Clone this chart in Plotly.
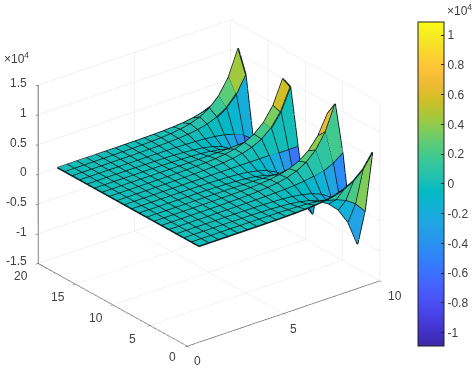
import plotly.graph_objects as go

x_vals = [1, 1.5, 2, 2.5, 3, 3.5, 4, 4.5, 5, 5.5, 6, 6.5, 7, 7.5, 8, 8.5, 9, 9.5, 10]
y_vals = list(range(1, 21))
z_rows = [
    [.8, 1.3, 2.0, 3.3, 5.4, 9.0, 14.8, 24.3, 40.1, 66.1, 109, 180, 296, 488, 805, 1328, 2189, 3609, 5950],
    [-.6, -1.0, -1.6, -2.6, -4.2, -6.9, -11.4, -18.7, -30.9, -50.9, -83.9, -138, -228, -376, -620, -1023, -1686, -2780, -4583],
    [-1.5, -2.3, -3.7, -6.1, -10.0, -16.4, -27.0, -44.6, -73.5, -121, -200, -329, -543, -895, -1476, -2433, -4011, -6613, -10903],
    [-1.0, -1.5, -2.5, -4.0, -6.6, -10.8, -17.9, -29.4, -48.5, -80, -132, -217, -358, -591, -974, -1606, -2648, -4366, -7199],
    [.4, .7, 1.1, 1.7, 2.9, 4.7, 7.7, 12.8, 21.1, 34.7, 57.2, 94.3, 155.5, 256, 423, 697, 1149, 1895, 3124],
    [1.5, 2.3, 3.6, 5.9, 9.7, 15.9, 26.2, 43.2, 71.3, 117.5, 193.7, 319, 526, 868, 1431, 2360, 3890, 6414, 10575],
    [1.2, 1.8, 2.8, 4.6, 7.6, 12.5, 20.6, 33.9, 55.9, 92.2, 152, 251, 413, 682, 1124, 1853, 3054, 5036, 8303],
    [-.2, -.3, -.5, -.9, -1.5, -2.4, -4.0, -6.5, -10.8, -17.8, -29.4, -48.4, -79.8, -131.5, -217, -358, -590, -972, -1602],
    [-1.4, -2.1, -3.4, -5.6, -9.2, -15.1, -24.9, -41, -67.6, -111.5, -183.8, -303, -500, -824, -1358, -2239, -3691, -6086, -10034],
    [-1.3, -2.0, -3.2, -5.1, -8.4, -13.9, -22.9, -37.8, -62.3, -102.7, -169.3, -279, -460, -759, -1251, -2062, -3400, -5605, -9241],
    [0, 0, 0, 0, 0, .1, .1, .2, .3, .5, .9, 1.5, 2.4, 4.0, 6.6, 10.9, 17.9, 29.6, 48.7],
    [1.3, 2.0, 3.2, 5.2, 8.5, 14.0, 23.0, 38.0, 62.6, 103, 170, 281, 463, 763, 1258, 2074, 3419, 5637, 9293],
    [1.4, 2.1, 3.4, 5.6, 9.1, 15.0, 24.8, 40.8, 67.3, 111, 183, 302, 498, 820, 1353, 2230, 3677, 6062, 9994],
    [.2, .3, .5, .8, 1.4, 2.3, 3.7, 6.2, 10.1, 16.7, 27.6, 45.5, 75, 123.6, 204, 336, 554, 913, 1506],
    [-1.2, -1.8, -2.9, -4.7, -7.6, -12.6, -20.7, -34.2, -56.4, -92.9, -153, -253, -417, -687, -1132, -1867, -3078, -5075, -8367],
    [-1.5, -2.3, -3.6, -5.9, -9.6, -15.9, -26.2, -43.1, -71.1, -117, -193, -318, -525, -866, -1427, -2353, -3880, -6397, -10547],
    [-.4, -.6, -1.0, -1.7, -2.8, -4.6, -7.5, -12.4, -20.4, -33.7, -55.5, -91.5, -151, -249, -410, -676, -1115, -1838, -3030],
    [1.0, 1.6, 2.5, 4.0, 6.6, 10.9, 18, 29.7, 49, 80.8, 133, 220, 362, 597, 984, 1623, 2675, 4411, 7272],
    [1.5, 2.3, 3.7, 6.1, 10, 16.4, 27, 44.5, 73.4, 121, 199, 329, 542, 894, 1474, 2430, 4006, 6604, 10889],
    [.6, 1.0, 1.5, 2.5, 4.1, 6.8, 11.1, 18.4, 30.3, 49.9, 82.3, 136, 224, 369, 608, 1003, 1653, 2726, 4494],
]
x_ticks = [0, 5, 10]
y_ticks = [0, 5, 10, 15, 20]
z_ticks = [-15000, -10000, -5000, 0, 5000, 10000, 15000]
z_labels = ["-1.5", "-1", "-0.5", "0", "0.5", "1", "1.5"]
cb_ticks = [-10000, -8000, -6000, -4000, -2000, 0, 2000, 4000, 6000, 8000, 10000]
cb_labels = ["-1", "-0.8", "-0.6", "-0.4", "-0.2", "0", "0.2", "0.4", "0.6", "0.8", "1"]
parula = [
    [.2422, .1504, .6603], [.2647, .1978, .7952], [.2783, .2559, .8991], [.2810, .3228, .9579],
    [.2699, .3892, .9906], [.2206, .4603, .9973], [.1786, .5289, .9682], [.1540, .5902, .9218],
    [.1248, .6459, .8883], [.0689, .6948, .8394], [.0067, .7312, .7660], [.1408, .7584, .6842],
    [.2161, .7843, .5923], [.3406, .8008, .4789], [.5044, .7993, .3480], [.6720, .7793, .2227],
    [.8203, .7498, .1535], [.9393, .7288, .2100], [.9970, .7659, .2199], [.9786, .8386, .1766],
    [.9597, .9135, .1423], [.9769, .9839, .0805],
]
colorscale = [[i / (len(parula) - 1), "rgb(%d,%d,%d)" % tuple(round(c * 255) for c in p)]
              for i, p in enumerate(parula)]

ny, nx = len(y_vals), len(x_vals)
vx, vy, vz = [], [], []
for r in range(ny):
    for c in range(nx):
        vx.append(x_vals[c]); vy.append(y_vals[r]); vz.append(z_rows[r][c])
fi, fj, fk, fc = [], [], [], []
for r in range(ny - 1):
    for c in range(nx - 1):
        a = r * nx + c
        b, d, e = a + 1, a + nx, a + nx + 1
        fi += [a, a]; fj += [b, e]; fk += [e, d]
        fc += [z_rows[r][c], z_rows[r][c]]

lx, ly, lz = [], [], []
for r in range(ny):
    lx += x_vals + [None]; ly += [y_vals[r]] * nx + [None]; lz += z_rows[r] + [None]
for c in range(nx):
    lx += [x_vals[c]] * ny + [None]; ly += y_vals + [None]; lz += [z_rows[r][c] for r in range(ny)] + [None]

TXT = "#404040"
FONT = dict(family="Liberation Sans, Arial, sans-serif", size=12, color=TXT)

fig = go.Figure()
fig.add_trace(go.Mesh3d(
    x=vx, y=vy, z=vz, i=fi, j=fj, k=fk, intensity=fc, intensitymode="cell",
    colorscale=colorscale, cmin=-10903, cmax=10889, flatshading=True,
    lighting=dict(ambient=1, diffuse=0, specular=0, roughness=1, fresnel=0),
    hoverinfo="skip",
    colorbar=dict(
        x=418 / 474, xanchor="left", xpad=0, y=1 - 22 / 369, yanchor="top", ypad=0,
        len=324 / 369, lenmode="fraction", thickness=26, thicknessmode="pixels",
        outlinecolor="#222222", outlinewidth=1, ticks="inside", ticklen=3, tickcolor="#222222",
        tickvals=cb_ticks, ticktext=cb_labels, tickfont=FONT,
    ),
))
fig.add_trace(go.Scatter3d(x=lx, y=ly, z=lz, mode="lines", showlegend=False, hoverinfo="skip",
                           line=dict(color="#06181c", width=3)))

def axis(rng, ticks):
    return dict(range=rng, tickvals=ticks, title=dict(text=""), showbackground=False,
                gridcolor="#e4e4e4", gridwidth=1, showline=True, linecolor="#404040", linewidth=1.5,
                ticks="outside", ticklen=3, tickcolor="#404040", showticklabels=False,
                zeroline=False, showspikes=False)

def label(x, y, z, text, dx, dy, anchor="center"):
    return dict(x=x, y=y, z=z, text=text, showarrow=False, xanchor=anchor, yanchor="middle",
                xshift=dx, yshift=dy, font=FONT)

labels = []
for v, t in zip(z_ticks, z_labels):
    labels.append(label(0, 20, v, t, -9, 2, "right"))
for v in y_ticks:
    labels.append(label(0, v, -15000, str(v), -17 if v else -15, -13 if v else -11))
for v in x_ticks:
    labels.append(label(v, 0, -15000, str(v), 15 if v == 10 else 10, -15))

fig.update_layout(
    width=474, height=369, margin=dict(l=0, r=0, t=0, b=0),
    paper_bgcolor="white", showlegend=False,
    scene=dict(
        domain=dict(x=[0, 418 / 474], y=[3 / 369, 1]),
        xaxis=axis([0, 10], x_ticks),
        yaxis=axis([0, 20], y_ticks),
        zaxis=axis([-15000, 15000], z_ticks),
        aspectmode="manual", aspectratio=dict(x=1.336, y=1.323, z=1.082),
        annotations=labels,
        camera=dict(projection=dict(type="orthographic"), up=dict(x=0, y=0, z=1),
                    center=dict(x=0, y=0, z=0),
                    eye=dict(x=-.555 * 1.7, y=-.71 * 1.7, z=.434 * 1.7)),
    ),
    annotations=[
        dict(text="×10<sup>4</sup>", xref="paper", yref="paper", x=2 / 474, y=1 - 58 / 369,
             xanchor="left", yanchor="middle", showarrow=False, font=FONT),
        dict(text="×10<sup>4</sup>", xref="paper", yref="paper", x=445 / 474, y=1 - 10 / 369,
             xanchor="left", yanchor="middle", showarrow=False, font=FONT),
    ],
)
fig.write_html("out.html", post_script="document.body.style.margin='0';",
               config=dict(displayModeBar=False))
